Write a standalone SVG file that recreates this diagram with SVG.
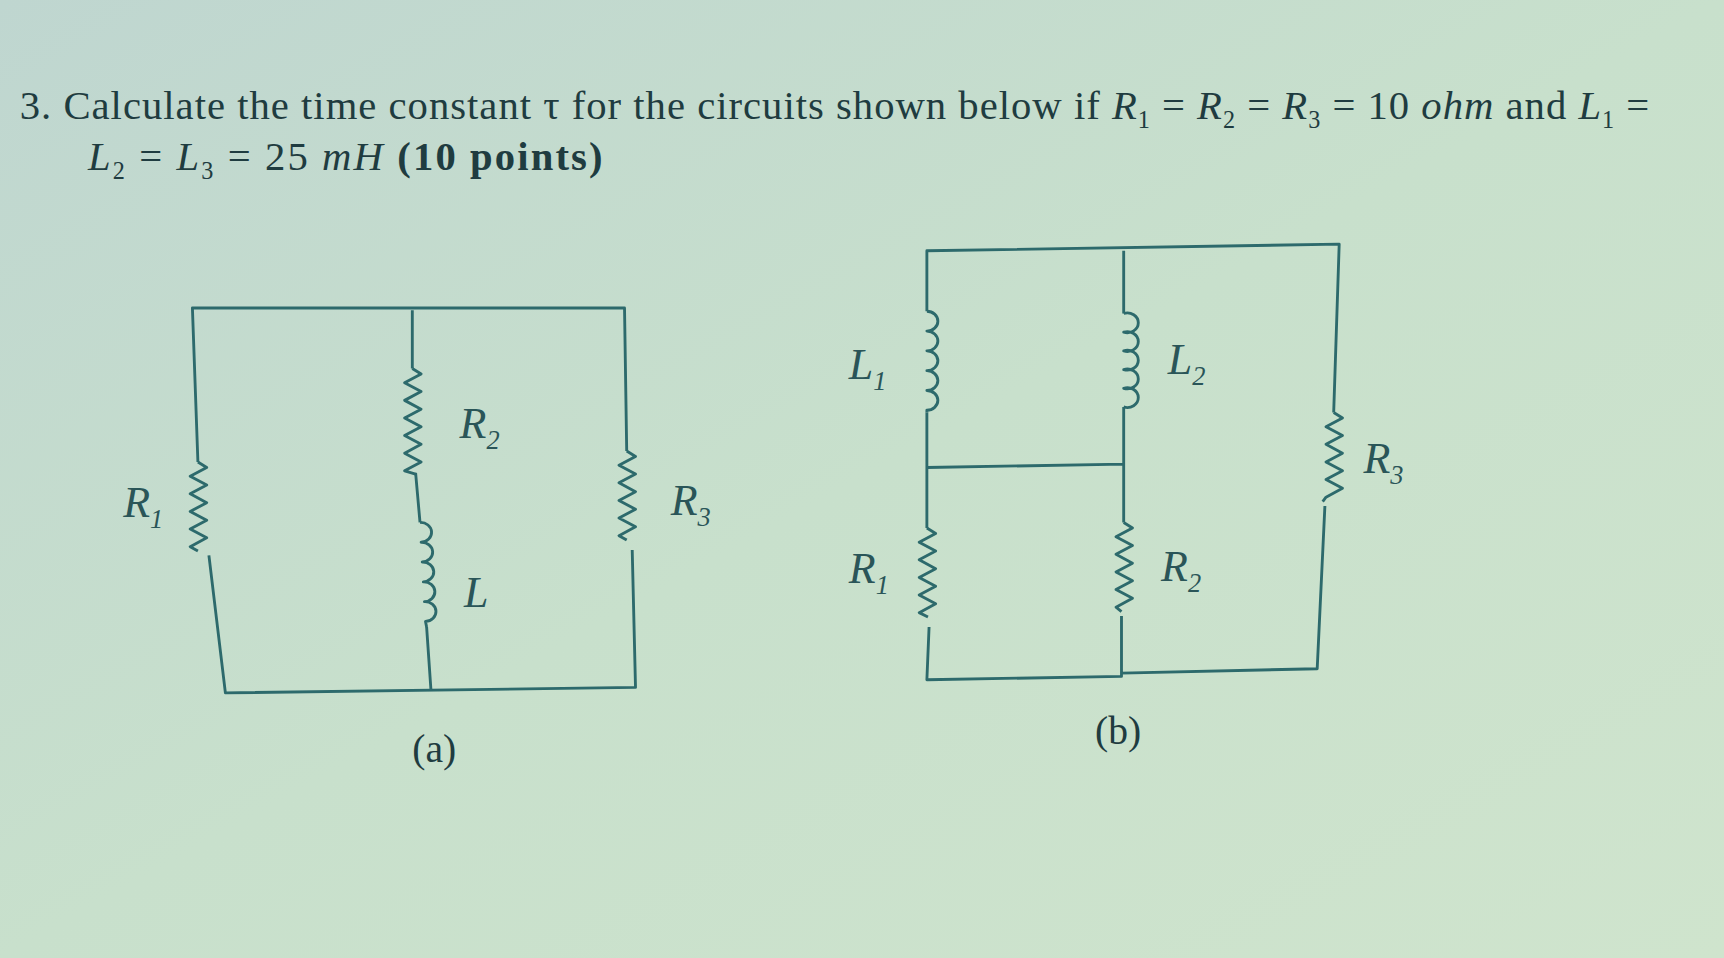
<svg xmlns="http://www.w3.org/2000/svg" width="1724" height="958" viewBox="0 0 1724 958">
<defs>
<linearGradient id="bg" x1="0" y1="0" x2="1" y2="1">
<stop offset="0" stop-color="#bfd6d0"/><stop offset="0.5" stop-color="#c8e0cc"/><stop offset="1" stop-color="#cfe4cd"/>
</linearGradient>
<style>
.w{fill:none;stroke:#2d6a6c;stroke-width:2.6;stroke-linejoin:round}
.t{font-family:"Liberation Serif",serif;fill:#1f3c40}
.lb{font-family:"Liberation Serif",serif;font-style:italic;font-size:40px;fill:#2a5558}
.sb{font-size:24px}
</style>
</defs>
<rect width="1724" height="958" fill="url(#bg)"/>
<g transform="scale(1.0995,1.0999)">
<g id="title">
<text class="t" x="18" y="108" font-size="37" textLength="1482" lengthAdjust="spacing">3.  Calculate the time constant τ for the circuits shown below if <tspan font-style="italic">R</tspan><tspan font-size="22" dy="8">1</tspan><tspan dy="-8"> = </tspan><tspan font-style="italic">R</tspan><tspan font-size="22" dy="8">2</tspan><tspan dy="-8"> = </tspan><tspan font-style="italic">R</tspan><tspan font-size="22" dy="8">3</tspan><tspan dy="-8"> = 10 </tspan><tspan font-style="italic">ohm</tspan> and <tspan font-style="italic">L</tspan><tspan font-size="22" dy="8">1</tspan><tspan dy="-8"> =</tspan></text>
<text class="t" x="80" y="155" font-size="37" textLength="468" lengthAdjust="spacing"><tspan font-style="italic">L</tspan><tspan font-size="22" dy="8">2</tspan><tspan dy="-8"> = </tspan><tspan font-style="italic">L</tspan><tspan font-size="22" dy="8">3</tspan><tspan dy="-8"> = 25 </tspan><tspan font-style="italic">mH</tspan><tspan font-weight="bold"> (10 points)</tspan></text>
</g>
<g id="connectors">
<path class="w" d="M180 420 L175 280 L568 280 L570 410"/>
<path class="w" d="M190 505 L205 630 L578 625 L575 500"/>
<path class="w" d="M375 282 L375 335 M378 430 L382 475 M388 570 L392 628"/>
<path class="w" d="M843 283 L843 228 L1218 222 L1213 375"/>
<path class="w" d="M843 375 L843 480 M843 425 L1022 422 M1022 285 L1022 228 M1022 370 L1022 475"/>
<path class="w" d="M845 570 L843 618 L1020 615 L1020 560 M1020 612 L1198 608 L1205 460"/>
</g>
<g id="R1a"><path class="w" d="M180 420 l8 5 l-15 8 l15 8 l-15 8 l15 8 l-15 8 l15 8 l-15 8 l15 8 l-15 8 l7 4"/><text class="lb" x="112" y="470">R<tspan class="sb" dy="10">1</tspan></text></g>
<g id="R2a"><path class="w" d="M375 335 l8 5 l-15 8 l15 8 l-15 8 l15 8 l-15 8 l15 8 l-15 8 l15 8 l-15 8 l15 8 l-15 8 l10 3"/><text class="lb" x="418" y="398">R<tspan class="sb" dy="10">2</tspan></text></g>
<g id="La"><path class="w" d="M382 475 a10 9 0 1 1 1 18 a10 9 0 1 1 1 18 a10 9 0 1 1 1 18 a10 9 0 1 1 1 18 a10 9 0 1 1 1 18 l1 5"/><text class="lb" x="422" y="552">L</text></g>
<g id="R3a"><path class="w" d="M570 410 l8 5 l-15 8 l15 8 l-15 8 l15 8 l-15 8 l15 8 l-15 8 l15 8 l-15 8 l7 4"/><text class="lb" x="610" y="468">R<tspan class="sb" dy="10">3</tspan></text></g>
<g id="la"><text class="t" x="375" y="693" font-size="36">(a)</text></g>
<g id="L1b"><path class="w" d="M843 283 a10 9 0 1 1 0 18 a10 9 0 1 1 0 18 a10 9 0 1 1 0 18 a10 9 0 1 1 0 18 a10 9 0 1 1 0 18 l0 2"/><text class="lb" x="772" y="345">L<tspan class="sb" dy="10">1</tspan></text></g>
<g id="L2b"><path class="w" d="M1022 285 a10 9 0 1 1 0 17 a10 9 0 1 1 0 17 a10 9 0 1 1 0 17 a10 9 0 1 1 0 17 a10 9 0 1 1 0 17"/><text class="lb" x="1062" y="340">L<tspan class="sb" dy="10">2</tspan></text></g>
<g id="R1b"><path class="w" d="M843 480 l8 5 l-15 8 l15 8 l-15 8 l15 8 l-15 8 l15 8 l-15 8 l15 8 l-15 8 l8 4"/><text class="lb" x="772" y="530">R<tspan class="sb" dy="10">1</tspan></text></g>
<g id="R2b"><path class="w" d="M1022 475 l8 5 l-15 8 l15 8 l-15 8 l15 8 l-15 8 l15 8 l-15 8 l15 8 l-15 8 l5 4"/><text class="lb" x="1056" y="528">R<tspan class="sb" dy="10">2</tspan></text></g>
<g id="R3b"><path class="w" d="M1213 375 l8 5 l-15 8 l15 8 l-15 8 l15 8 l-15 8 l15 8 l-15 8 l15 8 l-15 8 l-3 4"/><text class="lb" x="1240" y="430">R<tspan class="sb" dy="10">3</tspan></text></g>
<g id="lb"><text class="t" x="996" y="676" font-size="36">(b)</text></g>
</g>
</svg>
